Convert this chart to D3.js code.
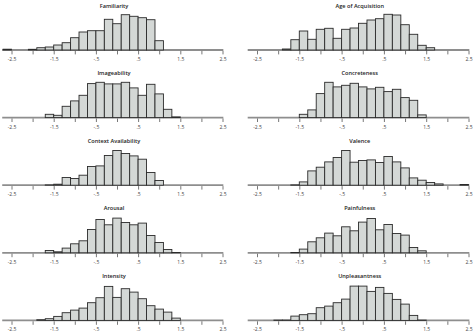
<!DOCTYPE html>
<html>
<head>
<meta charset="utf-8">
<script src="https://cdn.jsdelivr.net/npm/d3@7/dist/d3.min.js"></script>
<style>
  html, body { margin: 0; padding: 0; background: #fff; }
  svg { display: block; }
  .title { font-family: "Open Sans", "Liberation Sans", sans-serif; font-weight: 600; font-size: 5.6px; fill: #222; }
  .tick text { font-family: "Open Sans", "Liberation Sans", sans-serif; font-size: 5px; fill: #444; }
</style>
</head>
<body>
<script>
// Histogram bins: left edge of each 0.2-wide bin
const binStarts = [-2.7, -2.5, -2.3, -2.1, -1.9, -1.7, -1.5, -1.3, -1.1, -0.9, -0.7, -0.5, -0.3,
                   -0.1, 0.1, 0.3, 0.5, 0.7, 0.9, 1.1, 1.3, 1.5, 1.7, 1.9, 2.1, 2.3];
const binWidth = 0.2;

// Axis ticks and their labels
const tickValues = [-2.5, -2, -1.5, -1, -0.5, 0, 0.5, 1, 1.5, 2, 2.5];
const tickLabels = ["-2.5", "", "-1.5", "", "-.5", "", ".5", "", "1.5", "", "2.5"];

// Panel titles, in reading order (left column, right column, row by row)
const measures = ["Familiarity", "Age of Acquisition", "Imageability", "Concreteness",
                  "Context Availability", "Valence", "Arousal", "Painfulness",
                  "Intensity", "Unpleasantness"];

// Frequencies per bin for each measure
const familiarity    = [8,0,0,7,23,30,50,73,123,180,193,193,307,263,353,337,323,303,93,0,0,0,0,0,0,0];
const ageAcquisition = [0,0,0,0,10,103,190,107,207,217,117,207,220,267,300,313,357,350,253,157,47,23,0,0,0,0];
const imageability   = [0,0,0,0,0,33,23,113,167,223,340,353,337,337,353,297,223,333,237,83,7,0,0,0,0,0];
const concreteness   = [0,0,0,0,0,0,33,77,240,353,307,323,343,307,287,303,260,283,200,173,27,0,0,0,0,0];
const contextAvail   = [0,0,0,0,0,3,10,77,67,100,187,193,297,347,317,293,260,127,47,0,0,0,0,0,0,0];
const valence        = [0,0,0,0,0,3,33,143,180,233,277,347,230,247,253,227,287,233,173,73,50,27,13,0,0,7];
const arousal        = [0,0,0,0,0,23,10,47,90,120,233,333,280,347,303,280,297,173,103,33,3,0,0,0,0,0];
const painfulness    = [0,0,0,0,0,3,37,110,150,197,170,260,220,307,343,230,283,193,177,53,20,0,0,0,0,0];
const intensity      = [0,0,0,0,7,17,40,77,103,123,177,227,340,230,317,283,217,147,113,83,23,0,0,0,0,0];
const unpleasantness = [0,0,0,3,3,43,57,67,127,143,177,213,343,343,290,330,270,210,163,50,3,0,0,0,0,0];

const series = [familiarity, ageAcquisition, imageability, concreteness, contextAvail,
                valence, arousal, painfulness, intensity, unpleasantness];

const W = 474, H = 336;
const svg = d3.select("body").append("svg").attr("width", W).attr("height", H);

const colRanges = [[11.5, 222.5], [257, 468.5]];
const firstBaseline = 50, rowStep = 67.6, barMaxH = 36;

const y = d3.scaleLinear().domain([0, 360]).range([0, barMaxH]);

measures.forEach((name, i) => {
  const col = i % 2, row = Math.floor(i / 2);
  const x = d3.scaleLinear().domain([-2.5, 2.5]).range(colRanges[col]);
  const base = firstBaseline + row * rowStep;
  const g = svg.append("g");

  // baseline
  g.append("line")
    .attr("x1", x(-2.72)).attr("x2", x(2.52))
    .attr("y1", base).attr("y2", base)
    .attr("stroke", "#8e8e8e").attr("stroke-width", 1.8);

  // bars
  const bins = binStarts.map((s, k) => ({ x0: s, x1: s + binWidth, v: series[i][k] }))
    .filter(d => d.v > 0);
  g.selectAll("rect").data(bins).join("rect")
    .attr("x", d => x(d.x0))
    .attr("width", d => x(d.x1) - x(d.x0))
    .attr("y", d => base - y(d.v))
    .attr("height", d => y(d.v))
    .attr("fill", "#d4d8d6")
    .attr("stroke", "#2b2b2b")
    .attr("stroke-width", 0.9);

  // axis ticks and labels
  const axis = d3.axisBottom(x)
    .tickValues(tickValues)
    .tickFormat((d, k) => tickLabels[k])
    .tickSize(3.5)
    .tickPadding(3);
  const ag = g.append("g").attr("transform", `translate(0,${base + 0.9})`).call(axis);
  ag.select(".domain").remove();
  ag.selectAll(".tick line").attr("stroke", "#555").attr("stroke-width", 0.8);

  // title
  g.append("text").attr("class", "title")
    .attr("x", x(0) - 3).attr("y", base - 42.5)
    .attr("text-anchor", "middle")
    .text(name);
});
</script>
</body>
</html>
